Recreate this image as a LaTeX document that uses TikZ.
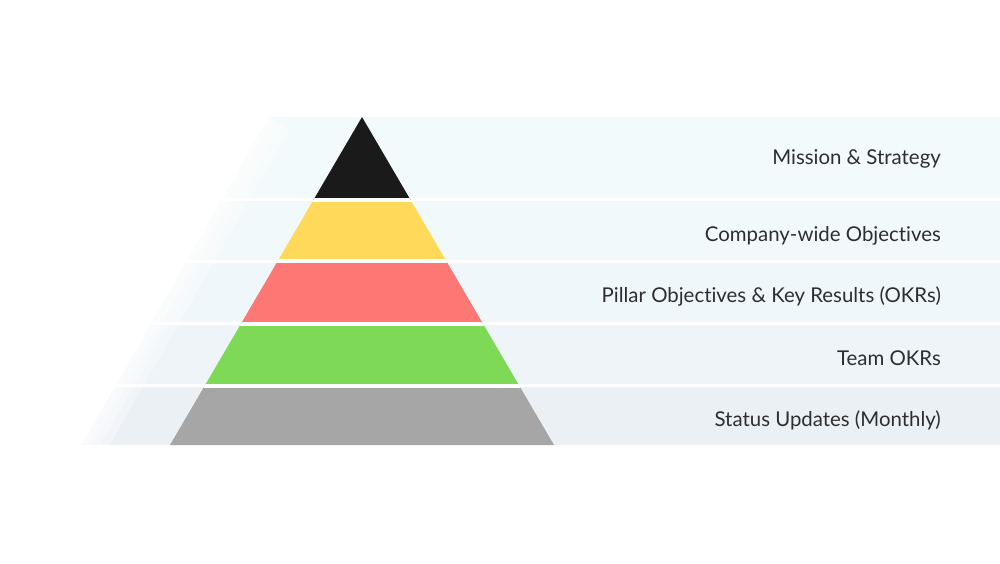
\documentclass[tikz,border=0pt]{standalone}
\usepackage{fontspec}
\setmainfont{Lato}[Ligatures={NoCommon,NoRare,NoContextual}]
\definecolor{bgA}{HTML}{F3FAFB}
\definecolor{bgB}{HTML}{F2F9FA}
\definecolor{bgC}{HTML}{F0F7FA}
\definecolor{bgD}{HTML}{EEF4F8}
\definecolor{bgE}{HTML}{EBF0F5}
\definecolor{tierA}{HTML}{1A1A1A}
\definecolor{tierB}{HTML}{FFD95A}
\definecolor{tierC}{HTML}{FD7775}
\definecolor{tierD}{HTML}{7ED957}
\definecolor{tierE}{HTML}{A6A6A6}
\definecolor{labeltext}{HTML}{2E2E2E}

\begin{document}
\begin{tikzpicture}[x=1pt, y=-1pt,
		gap/.style={white, line width=4pt},
		soft/.style={white, opacity=0.3},
		tier/.style={anchor=base east, inner sep=0pt, text=labeltext, font=\fontsize{20.4}{24}\selectfont}]
		\useasboundingbox (0,0) rectangle (1000,563);
		
		% background bands
		\begin{scope}
			\clip (82,445) -- (269,117) -- (1000,117) -- (1000,445) -- cycle;
			\fill[bgA] (0,117) rectangle (1000,199.5);
			\fill[bgB] (0,199.5) rectangle (1000,261.3);
			\fill[bgC] (0,261.3) rectangle (1000,323.5);
			\fill[bgD] (0,323.5) rectangle (1000,385.7);
			\fill[bgE] (0,385.7) rectangle (1000,445);
			\draw[gap, line width=3pt] (0,199.5) -- (1000,199.5)
				(0,261.3) -- (1000,261.3)
				(0,323.5) -- (1000,323.5)
				(0,385.7) -- (1000,385.7);
			% soft left edge
			\foreach \w in {48,32,18,8}
				\draw[soft, line width=\w pt] (82,445) -- (269,117);
		\end{scope}
		
		% pyramid
		\begin{scope}
			\clip (362,117) -- (554,445) -- (170,445) -- cycle;
			\fill[tierA] (150,110) rectangle (580,199.5);
			\fill[tierB] (150,199.5) rectangle (580,261.3);
			\fill[tierC] (150,261.3) rectangle (580,323.5);
			\fill[tierD] (150,323.5) rectangle (580,385.7);
			\fill[tierE] (150,385.7) rectangle (580,450);
			\draw[gap] (150,199.5) -- (580,199.5)
				(150,261.3) -- (580,261.3)
				(150,323.5) -- (580,323.5)
				(150,385.7) -- (580,385.7);
		\end{scope}
		
		\node[tier] (mission) at (941,164.3) {Mission \& Strategy};
		\node[tier] (company) at (941,241) {Company-wide Objectives};
		\node[tier] (pillar) at (941,302.7) {Pillar Objectives \& Key Results (OKRs)};
		\node[tier] (team) at (941,365) {Team OKRs};
		\node[tier] (status) at (941,426.7) {Status Updates (Monthly)};
	\end{tikzpicture}
\end{document}
